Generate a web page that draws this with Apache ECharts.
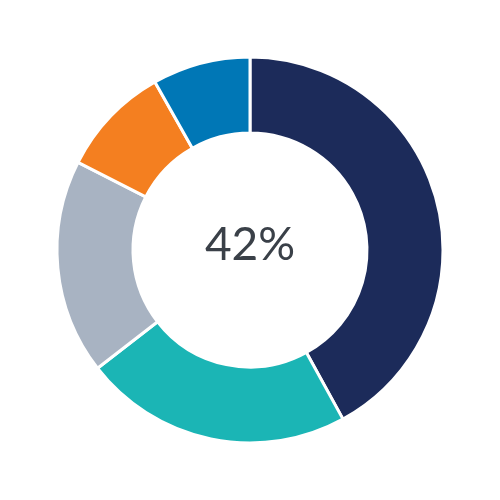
<!DOCTYPE html>
<html>
<head>
<meta charset="utf-8">
<script src="https://cdn.jsdelivr.net/npm/echarts@6/dist/echarts.min.js"></script>
<style>html,body{margin:0;padding:0;background:#fff;}#c{width:500px;height:500px;}</style>
</head>
<body>
<div id="c"></div>
<script>
const categories = ['A', 'B', 'C', 'D', 'E'];
const values = [42, 22.5, 18, 9.3, 8.2];
const colors = ['#1c2b5a', '#1bb5b5', '#a8b3c2', '#f47f20', '#0077b6'];
const centerLabel = '42%';

const chart = echarts.init(document.getElementById('c'));
chart.setOption({
  animation: false,
  graphic: [{
    type: 'text',
    left: 'center',
    top: 222,
    style: { text: centerLabel, font: '46px Lato', fill: '#3a4048' }
  }],
  series: [{
    type: 'pie',
    radius: [117, 193],
    center: [250, 250],
    startAngle: 90,
    clockwise: true,
    label: { show: false },
    labelLine: { show: false },
    itemStyle: { borderColor: '#fff', borderWidth: 3 },
    emphasis: { disabled: true },
    data: categories.map((c, i) => ({ name: c, value: values[i], itemStyle: { color: colors[i] } }))
  }]
});
</script>
</body>
</html>
